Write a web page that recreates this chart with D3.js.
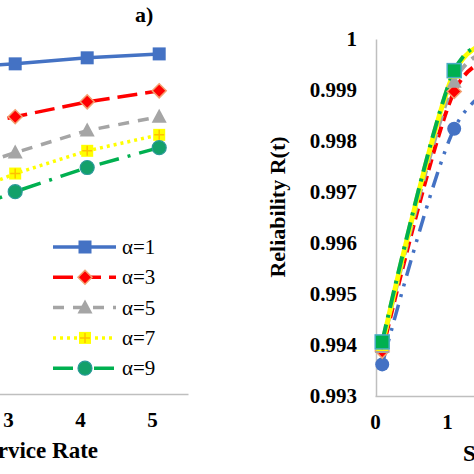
<!DOCTYPE html>
<html>
<head>
<meta charset="utf-8">
<script src="https://cdn.jsdelivr.net/npm/d3@7"></script>
<style>
  body { margin: 0; background: #fff; }
  svg { display: block; font-family: "Liberation Serif", "Times New Roman", serif; }
</style>
</head>
<body>
<div id="vis"></div>
<script>
// ---- data (left panel: reliability vs service rate, per alpha) ----
var leftX = [1.1, 2.1, 3.1, 4.1, 5.1];
var alphaLabels = ["\u03b1=1", "\u03b1=3", "\u03b1=5", "\u03b1=7", "\u03b1=9"];
var leftA1 = [0.9885, 0.9919, 0.9930, 0.9947, 0.9958];
var leftA3 = [0.9688, 0.9742, 0.9781, 0.9823, 0.9854];
var leftA5 = [0.9534, 0.9612, 0.9680, 0.9742, 0.9781];
var leftA7 = [0.9449, 0.9539, 0.9621, 0.9685, 0.9730];
var leftA9 = [0.9393, 0.9489, 0.9570, 0.9638, 0.9694];
var leftXTicks = [1, 2, 3, 4, 5];

// ---- data (right panel: Reliability R(t)) ----
var rightX = [0.1, 1.1, 2.1, 3.1];
var rightS1 = [0.99362, 0.99824, 0.99930, 0.99960];
var rightS2 = [0.99388, 0.99897, 0.99970, 0.99985];
var rightS3 = [0.99396, 0.99916, 0.99982, 0.99992];
var rightS4 = [0.99400, 0.99934, 0.99992, 0.99997];
var rightS5 = [0.99406, 0.99938, 0.99990, 0.99996];
var rightYTicks = [0.993, 0.994, 0.995, 0.996, 0.997, 0.998, 0.999, 1];
var rightXTicks = [0, 1, 2, 3];

var width = 474, height = 474;

var svg = d3.select("#vis")
    .append("svg")
    .attr("width", width)
    .attr("height", height);

var styles = [
    { color: "#4472C4", dash: null, marker: "square" },
    { color: "#FF0000", dash: "20,8", marker: "diamond" },
    { color: "#A5A5A5", dash: "11,9", marker: "triangle" },
    { color: "#FFFF00", dash: "3,4", marker: "plus" },
    { color: "#00B050", dash: "20,9,3,9", marker: "circle" }
];

function drawMarker(g, type, x, y, color) {
    if (type === "square") {
        g.append("rect").attr("x", x - 6.5).attr("y", y - 6.5)
            .attr("width", 13).attr("height", 13).attr("fill", color);
    } else if (type === "diamond") {
        g.append("path")
            .attr("d", "M" + x + "," + (y - 7) + "L" + (x + 7) + "," + y + "L" + x + "," + (y + 7) + "L" + (x - 7) + "," + y + "Z")
            .attr("fill", "#FF0000").attr("stroke", "#F4A070").attr("stroke-width", 1.5);
    } else if (type === "triangle") {
        g.append("path")
            .attr("d", "M" + x + "," + (y - 8) + "L" + (x + 7.5) + "," + (y + 6) + "L" + (x - 7.5) + "," + (y + 6) + "Z")
            .attr("fill", color);
    } else if (type === "plus") {
        g.append("rect").attr("x", x - 6).attr("y", y - 6)
            .attr("width", 12).attr("height", 12).attr("fill", "#FFFF00");
        g.append("path")
            .attr("d", "M" + (x - 5) + "," + y + "H" + (x + 5) + "M" + x + "," + (y - 5) + "V" + (y + 5))
            .attr("stroke", "#FFC000").attr("stroke-width", 1.5);
    } else if (type === "circle") {
        g.append("circle").attr("cx", x).attr("cy", y).attr("r", 7)
            .attr("fill", color === "#00B050" ? "#13A06A" : color)
            .attr("stroke", color === "#00B050" ? "#2A9A98" : "none").attr("stroke-width", 1.2);
    }
}

// ================= left panel =================
var xL = d3.scaleLinear().domain([0, 5.5]).range([-208, 188]);
var yL = d3.scaleLinear().domain([0.9, 1]).range([394, 39]);

var left = svg.append("g");

left.append("g")
    .attr("transform", "translate(0,394)")
    .call(d3.axisBottom(xL).tickValues(leftXTicks).tickSize(0).tickPadding(18).tickFormat(d3.format("d")))
    .call(function (g) {
        g.select(".domain").attr("stroke", "#BFBFBF").attr("stroke-width", 1.5);
        g.selectAll("text").attr("font-size", 21).attr("font-weight", "bold").attr("fill", "#000")
            .attr("font-family", "Liberation Serif");
    });

left.append("text")
    .attr("x", 98).attr("y", 458)
    .attr("text-anchor", "end")
    .attr("font-size", 23).attr("font-weight", "bold")
    .text("Service Rate");

left.append("text")
    .attr("x", 135).attr("y", 22)
    .attr("font-size", 22).attr("font-weight", "bold")
    .text("a)");

var leftSeries = [leftA1, leftA3, leftA5, leftA7, leftA9];
var lineL = d3.line()
    .x(function (d, i) { return xL(leftX[i]); })
    .y(function (d) { return yL(d); });

leftSeries.forEach(function (s, k) {
    var st = styles[k];
    left.append("path")
        .datum(s)
        .attr("d", lineL)
        .attr("fill", "none")
        .attr("stroke", st.color)
        .attr("stroke-width", 3.5)
        .attr("stroke-dasharray", st.dash);
    s.forEach(function (v, i) {
        drawMarker(left, st.marker, xL(leftX[i]), yL(v), st.color);
    });
});

// legend
var legend = left.append("g");
alphaLabels.forEach(function (lab, k) {
    var st = styles[k];
    var ly = 247 + k * 30.3;
    legend.append("line")
        .attr("x1", 53).attr("x2", 116).attr("y1", ly).attr("y2", ly)
        .attr("stroke", st.color).attr("stroke-width", 3.5)
        .attr("stroke-dasharray", st.dash);
    drawMarker(legend, st.marker, 85, ly, st.color);
    legend.append("text")
        .attr("x", 122).attr("y", ly + 7)
        .attr("font-size", 21)
        .text(lab);
});

// ================= right panel =================
var xR = d3.scaleLinear().domain([0, 3]).range([375, 591]);
var yR = d3.scaleLinear().domain([0.993, 1]).range([396, 39]);

var right = svg.append("g");

right.append("g")
    .attr("transform", "translate(376,0)")
    .call(d3.axisLeft(yR).tickValues(rightYTicks).tickSize(0).tickPadding(19).tickFormat(function (d) { return d; }))
    .call(function (g) {
        g.select(".domain").attr("stroke", "#BFBFBF").attr("stroke-width", 1.5);
        g.selectAll("text").attr("font-size", 21).attr("font-weight", "bold").attr("fill", "#000")
            .attr("font-family", "Liberation Serif");
    });

right.append("g")
    .attr("transform", "translate(0,396)")
    .call(d3.axisBottom(xR).tickValues(rightXTicks).tickSize(0).tickPadding(18).tickFormat(d3.format("d")))
    .call(function (g) {
        g.select(".domain").attr("stroke", "#BFBFBF").attr("stroke-width", 1.5);
        g.selectAll("text").attr("font-size", 21).attr("font-weight", "bold").attr("fill", "#000")
            .attr("font-family", "Liberation Serif");
    });

right.append("text")
    .attr("x", 463).attr("y", 461)
    .attr("font-size", 23).attr("font-weight", "bold")
    .text("Service Rate");

right.append("text")
    .attr("transform", "translate(285,207) rotate(-90)")
    .attr("text-anchor", "middle")
    .attr("font-size", 22).attr("font-weight", "bold")
    .text("Reliability R(t)");

var rightStyles = [
    { color: "#4472C4", dash: "16,8,3,8,3,8", marker: "circle", width: 3.5 },
    { color: "#FF0000", dash: "11,6", marker: "diamond", width: 4 },
    { color: "#A5A5A5", dash: "11,8", marker: "triangle", width: 4 },
    { color: "#FFFF00", dash: null, marker: "plus", width: 5 },
    { color: "#00B050", dash: "18,7,3,7", marker: "square", width: 4 }
];

var rightSeries = [rightS1, rightS2, rightS3, rightS4, rightS5];
var lineR = d3.line()
    .x(function (d, i) { return xR(rightX[i]); })
    .y(function (d) { return yR(d); })
    .curve(d3.curveCardinal.tension(0.15));

rightSeries.forEach(function (s, k) {
    var st = rightStyles[k];
    right.append("path")
        .datum(s)
        .attr("d", lineR)
        .attr("fill", "none")
        .attr("stroke", st.color)
        .attr("stroke-width", st.width)
        .attr("stroke-dasharray", st.dash);
});
rightSeries.forEach(function (s, k) {
    var st = rightStyles[k];
    s.forEach(function (v, i) {
        if (st.marker === "square") {
            right.append("rect").attr("x", xR(rightX[i]) - 7).attr("y", yR(v) - 7)
                .attr("width", 14).attr("height", 14)
                .attr("fill", "#00B050").attr("stroke", "#4BACC6").attr("stroke-width", 1.5);
        } else {
            drawMarker(right, st.marker, xR(rightX[i]), yR(v), st.color);
        }
    });
});
</script>
</body>
</html>
